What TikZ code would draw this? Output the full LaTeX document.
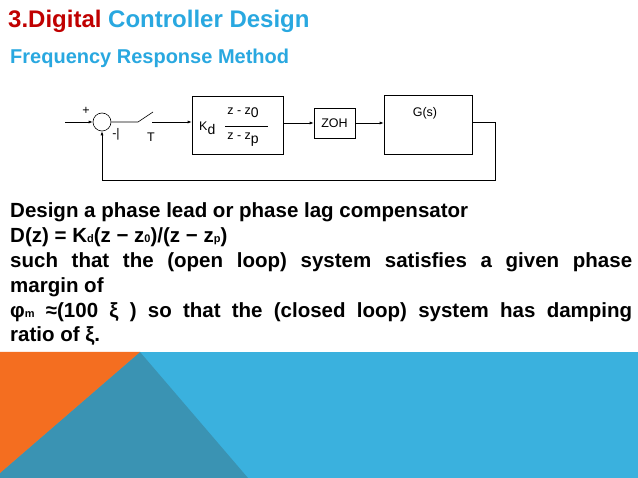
\documentclass[tikz,border=0pt]{standalone}
\usepackage{fontspec}
\setmainfont{Liberation Sans}
\usetikzlibrary{arrows.meta}
\definecolor{tred}{HTML}{C00000}
\definecolor{tblue}{HTML}{29A8E0}
\definecolor{lblue}{HTML}{3AB1DE}
\definecolor{dblue}{HTML}{3A93B3}
\definecolor{orng}{HTML}{F46E20}
\tikzset{blk/.style={draw, line width=0.6pt, inner sep=0pt},
 wire/.style={line width=0.6pt},
 arr/.style={wire,-{Latex[length=4pt,width=3pt]}},
 body/.style={anchor=base west, inner sep=0pt, font=\bfseries\fontsize{20.5}{24}\selectfont},
 dlab/.style={inner sep=0pt, font=\fontsize{12.5}{14}\selectfont}}
\begin{document}
\begin{tikzpicture}[x=1pt,y=-1pt]
\useasboundingbox (0,0) rectangle (638,478);
\fill[white] (0,0) rectangle (638,478);
\fill[lblue] (0,352) rectangle (638,478);
\fill[dblue] (140,352) -- (248,478) -- (0,478) -- (0,473) -- cycle;
\fill[orng] (0,352) -- (140,352) -- (0,473) -- cycle;
% titles
\node[anchor=base west, inner sep=0pt, font=\bfseries\fontsize{24}{28}\selectfont] (title) at (8,28) {\textcolor{tred}{3.Digital} \textcolor{tblue}{Controller Design}};
\node[anchor=base west, inner sep=0pt, font=\bfseries\fontsize{20}{24}\selectfont, text=tblue] (sub) at (10,64) {Frequency Response Method};
% diagram
\node[draw, circle, minimum size=18pt, inner sep=0pt, line width=0.6pt] (sum) at (102,122) {};
\coordinate (in) at (65,122);
\coordinate (sw1) at (138,122);
\coordinate (sw2) at (153,112);
\coordinate (sw3) at (152,122);
\node[blk, minimum width=91pt, minimum height=58pt] (kd) at (237.5,125) {};
\node[dlab, anchor=west] (kdt) at (199,128) {K\raisebox{-4pt}{\fontsize{14}{14}\selectfont d}};
\node[dlab] (num) at (243,113) {z - z\raisebox{-3pt}{\fontsize{14}{14}\selectfont 0}};
\node[dlab] (den) at (243,140) {z - z\raisebox{-4pt}{\fontsize{14}{14}\selectfont p}};
\draw[wire] (225,126) -- (268,126);
\node[blk, minimum width=41pt, minimum height=30pt, dlab] (zoh) at (334.5,123) {ZOH};
\node[blk, minimum width=88pt, minimum height=59pt] (g) at (428,124.5) {};
\node[dlab] (gt) at (425,113) {G(s)};
\coordinate (out) at (495,122);
\coordinate (fb) at (495,180);
\coordinate (fb2) at (102,180);
\draw[arr] (in) -- (sum.west);
\draw[wire] (sum.east) -- (sw1) -- (sw2);
\draw[arr] (sw3) -- (kd.west |- sw3);
\draw[arr] (kd.east |- zoh.west) -- (zoh.west);
\draw[arr] (zoh.east) -- (g.west |- zoh.east);
\draw[arr] (g.east |- out) -- (out) -- (fb) -- (fb2) -- (sum.south);
\node[dlab] (plus) at (86,111) {+};
\node[dlab] (minus) at (116,134) {-|};
\node[dlab] (T) at (151,137) {T};
% body
\node[body] (l1) at (10,218) {Design a phase lead or phase lag compensator};
\node[body] (l2) at (10,243) {D(z) = K{\fontsize{11}{11}\selectfont d}(z − z{\fontsize{11}{11}\selectfont 0})/(z − z{\fontsize{11}{11}\selectfont p})};
\node[body] (l3) at (10,268) {\makebox[622pt][s]{such that the (open loop) system satisfies a given phase}};
\node[body] (l4) at (10,293) {margin of};
\node[body] (l5) at (10,318) {\makebox[622pt][s]{φ{\fontsize{11}{11}\selectfont m} ≈(100 ξ ) so that the (closed loop) system has damping}};
\node[body] (l6) at (10,342) {ratio of ξ.};
\end{tikzpicture}
\end{document}
